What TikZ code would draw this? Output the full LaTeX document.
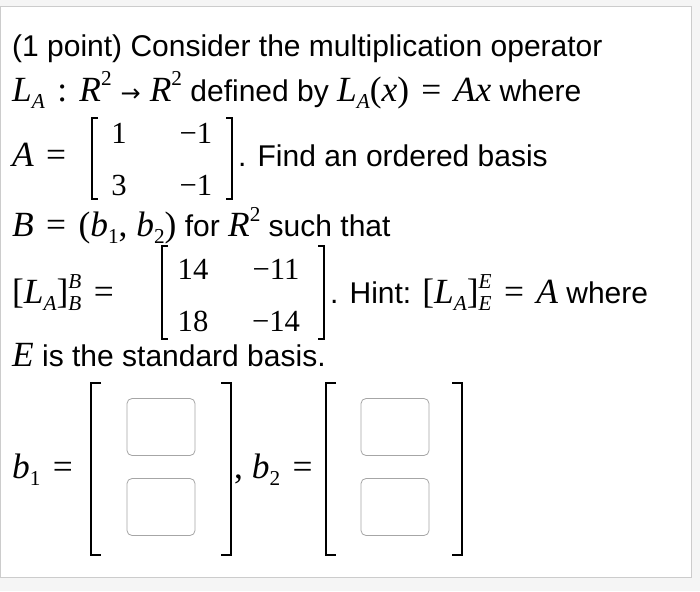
\documentclass[tikz,border=0pt]{standalone}
\usepackage{fontspec}
\setmainfont{Liberation Sans}
\newfontfamily\mf[Scale=1.18]{Liberation Serif}
\newfontfamily\af{DejaVu Sans}
\newcommand{\mi}[1]{{\mf\itshape #1}}
\newcommand{\mr}[1]{{\mf #1}}
\newcommand{\sbs}[1]{\raisebox{-0.25em}{\fontsize{18}{18}\selectfont #1}}
\newcommand{\sps}[1]{\raisebox{0.5em}{\fontsize{18}{18}\selectfont #1}}
\newcommand{\spsb}[2]{\rlap{\raisebox{0.5em}{\fontsize{18}{18}\selectfont #1}}\raisebox{-0.25em}{\fontsize{18}{18}\selectfont #2}}
\newcommand{\rel}[1]{\mr{\hspace{0.35em}#1\hspace{0.35em}}}
\begin{document}
\begin{tikzpicture}[x=1pt,y=-1pt,
  txt/.style={anchor=base west,inner sep=0pt,font=\fontsize{30}{30}\selectfont},
  ent/.style={anchor=base,inner sep=0pt,font=\fontsize{26}{26}\selectfont\mf},
  brk/.style={line width=1.3pt},
  ansbox/.style={draw=black!35,line width=0.8pt,rounded corners=5pt,fill=white}]
\useasboundingbox (0,0) rectangle (700,591);
\fill[black!4] (0,0) rectangle (700,591);
\draw[black!20,fill=white] (0,6) rectangle (691,577);
\node[txt] (l1) at (12,57) {(1 point) Consider the multiplication operator};
\node[txt] (l2) at (12,101) {\mi{L}\sbs{\mi{A}}\rel{:}\mi{R}\sps{\mr{2}}\hspace{0.3em}{\af\fontsize{24}{24}\selectfont →}\hspace{0.3em}\mi{R}\sps{\mr{2}} defined by \mi{L}\sbs{\mi{A}}\mr{(}\mi{x}\mr{)}\rel{=}\mi{Ax} where};
\node[txt] (aeq) at (12,166) {\mi{A}\rel{=}};
\draw[brk] (98,118) -- (92,118) -- (92,199) -- (98,199);
\draw[brk] (226,118) -- (232,118) -- (232,199) -- (226,199);
\node[ent] (a11) at (119,143) {1};
\node[ent] (a12) at (196,143) {−1};
\node[ent] (a21) at (119,195) {3};
\node[ent] (a22) at (196,195) {−1};
\node[txt] (find) at (238,166) {. Find an ordered basis};
\node[txt] (l4) at (12,236) {\mi{B}\rel{=}\mr{(}\mi{b}\sbs{\mr{1}}\mr{, }\mi{b}\sbs{\mr{2}}\mr{)} for \mi{R}\sps{\mr{2}} such that};
\node[txt] (lab) at (12,303) {\mr{[}\mi{L}\sbs{\mi{A}}\mr{]}\spsb{\mi{B}}{\mi{B}}\rel{=}};
\draw[brk] (168,246) -- (162,246) -- (162,339) -- (168,339);
\draw[brk] (318,246) -- (324,246) -- (324,339) -- (318,339);
\node[ent] (b11) at (193,279) {14};
\node[ent] (b12) at (276,279) {−11};
\node[ent] (b21) at (193,331) {18};
\node[ent] (b22) at (276,331) {−14};
\node[txt] (hint) at (330,303) {. Hint: \mr{[}\mi{L}\sbs{\mi{A}}\mr{]}\spsb{\mi{E}}{\mi{E}}\rel{=}\mi{A} where};
\node[txt] (l6) at (12,366) {\mi{E} is the standard basis.};
\node[txt] (b1) at (12,478) {\mi{b}\sbs{\mr{1}}\rel{=}};
\draw[brk] (101,383) -- (91,383) -- (91,555) -- (101,555);
\draw[brk] (221,383) -- (231,383) -- (231,555) -- (221,555);
\node[ansbox,minimum width=68pt,minimum height=57pt] (x1) at (161,427) {};
\node[ansbox,minimum width=68pt,minimum height=57pt] (x2) at (161,507) {};
\node[txt] (b2) at (234,478) {\mr{, }\mi{b}\sbs{\mr{2}}\rel{=}};
\draw[brk] (336,383) -- (326,383) -- (326,555) -- (336,555);
\draw[brk] (452,383) -- (462,383) -- (462,555) -- (452,555);
\node[ansbox,minimum width=68pt,minimum height=57pt] (x3) at (395,427) {};
\node[ansbox,minimum width=68pt,minimum height=57pt] (x4) at (395,507) {};
\end{tikzpicture}
\end{document}
